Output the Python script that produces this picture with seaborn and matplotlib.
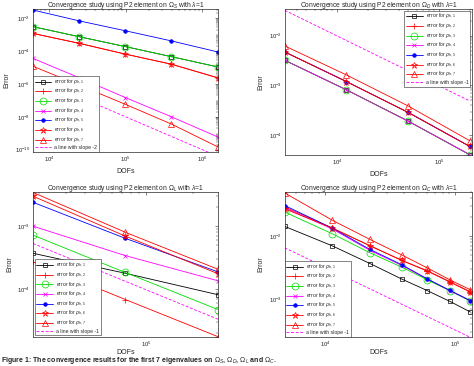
import numpy as np
import pandas as pd
import matplotlib
matplotlib.use("Agg")
import matplotlib.pyplot as plt
import seaborn as sns
from matplotlib.ticker import FixedLocator, LogFormatterSciNotation, NullFormatter

# ---------------- data ----------------
series_labels = [r"error for $\rho_{h,%d}$" % i for i in range(1, 8)]

# Omega_S (top-left)
dofs_S = [6.2e3, 2.48e4, 9.9e4, 3.96e5, 1.58e6]
err_S_1 = [3.1e-3, 7.6e-4, 1.9e-4, 4.6e-5, 1.1e-5]
err_S_2 = [1.2e-3, 3.0e-4, 6.6e-5, 1.6e-5, 2.4e-6]
err_S_3 = [3.1e-3, 7.6e-4, 1.9e-4, 4.6e-5, 1.1e-5]
err_S_4 = [3.6e-5, 2.4e-6, 1.5e-7, 1.0e-8, 6.0e-10]
err_S_5 = [3.2e-2, 7.0e-3, 1.75e-3, 4.2e-4, 9.0e-5]
err_S_6 = [1.2e-3, 3.0e-4, 6.6e-5, 1.6e-5, 2.4e-6]
err_S_7 = [1.2e-5, 8.5e-7, 5.8e-8, 3.6e-9, 1.5e-10]
slope_S_x = [6.2e3, 1.58e6]
slope_S_y = [2.6e-6, 4.0e-11]

# Omega_D (top-right)
dofs_D = [3.06e3, 1.23e4, 4.95e4, 2.0e5]
err_D_1 = [3.2e-3, 8.2e-4, 1.94e-4, 4.1e-5]
err_D_2 = [4.7e-3, 1.2e-3, 2.9e-4, 6.0e-5]
err_D_3 = [3.2e-3, 8.2e-4, 1.94e-4, 4.1e-5]
err_D_4 = [3.2e-3, 8.2e-4, 1.94e-4, 4.1e-5]
err_D_5 = [4.7e-3, 1.2e-3, 2.9e-4, 6.0e-5]
err_D_6 = [4.7e-3, 1.2e-3, 2.9e-4, 6.0e-5]
err_D_7 = [6.2e-3, 1.63e-3, 3.9e-4, 7.8e-5]
slope_D_x = [3.06e3, 2.0e5]
slope_D_y = [3.2e-2, 4.9e-4]

# Omega_L (bottom-left)
dofs_L = [1.83e4, 7.3e4, 2.93e5]
err_L_1 = [3.7e-4, 1.78e-4, 8.1e-5]
err_L_2 = [2.7e-4, 6.8e-5, 1.74e-5]
err_L_3 = [7.2e-4, 1.83e-4, 4.7e-5]
err_L_4 = [1.0e-3, 3.4e-4, 1.35e-4]
err_L_5 = [2.4e-3, 6.4e-4, 1.87e-4]
err_L_6 = [3.0e-3, 6.95e-4, 1.75e-4]
err_L_7 = [3.44e-3, 8.0e-4, 2.06e-4]
slope_L_x = [1.83e4, 2.93e5]
slope_L_y = [5.3e-4, 3.3e-5]

# Omega_C (bottom-right)
dofs_C = [4.9e3, 1.13e4, 2.21e4, 3.87e4, 6.1e4, 9.1e4, 1.3e5]
err_C_1 = [1.42e-2, 7.0e-3, 3.65e-3, 2.07e-3, 1.35e-3, 9.1e-4, 6.2e-4]
err_C_2 = [2.9e-2, 1.34e-2, 7.0e-3, 4.1e-3, 2.75e-3, 1.85e-3, 1.28e-3]
err_C_3 = [2.4e-2, 1.09e-2, 5.4e-3, 3.2e-3, 2.0e-3, 1.34e-3, 9.2e-4]
err_C_4 = [2.8e-2, 1.3e-2, 5.9e-3, 3.4e-3, 2.07e-3, 1.35e-3, 9.4e-4]
err_C_5 = [3.05e-2, 1.34e-2, 6.1e-3, 3.5e-3, 2.07e-3, 1.36e-3, 9.4e-4]
err_C_6 = [2.7e-2, 1.34e-2, 7.0e-3, 4.1e-3, 2.8e-3, 1.87e-3, 1.3e-3]
err_C_7 = [4.83e-2, 1.79e-2, 8.8e-3, 5.0e-3, 3.1e-3, 2.0e-3, 1.4e-3]
slope_C_x = [4.9e3, 1.3e5]
slope_C_y = [6.5e-3, 2.45e-4]

titles = [r"Convergence study using P2 element on $\Omega_S$ with $\lambda$=1",
          r"Convergence study using P2 element on $\Omega_D$ with $\lambda$=1",
          r"Convergence study using P2 element on $\Omega_L$ with $\lambda$=1",
          r"Convergence study using P2 element on $\Omega_C$ with $\lambda$=1"]
slope_labels = ["a line with slope -2", "a line with slope -1",
                "a line with slope -1", "a line with slope -1"]
caption = (r"Figure 1: The convergence results for the first 7 eigenvalues on "
           r"$\Omega_S$, $\Omega_D$, $\Omega_L$ and $\Omega_C$.")

# ---------------- style ----------------
sns.set_style("white")
plt.rcParams["font.family"] = ["Liberation Sans", "DejaVu Sans"]
plt.rcParams["mathtext.fontset"] = "custom"
plt.rcParams["mathtext.rm"] = "Liberation Sans"
plt.rcParams["mathtext.it"] = "Liberation Sans:italic"
plt.rcParams["mathtext.bf"] = "Liberation Sans:bold"
plt.rcParams["axes.edgecolor"] = "#262626"
plt.rcParams["axes.linewidth"] = 0.5

styles = [
    dict(color="#000000", marker="s", markersize=3.2, mfc="none"),
    dict(color="#ff0000", marker="+", markersize=4.0, mfc="none"),
    dict(color="#00dd00", marker="o", markersize=5.0, mfc="none"),
    dict(color="#ff00ff", marker="x", markersize=3.2, mfc="none"),
    dict(color="#0000ff", marker="o", markersize=2.6, mfc="#0000ff"),
    dict(color="#ff0000", marker="*", markersize=5.0, mfc="none"),
    dict(color="#ff0000", marker="^", markersize=4.8, mfc="none"),
]

W, H = 474, 366
fig = plt.figure(figsize=(W / 100, H / 100), dpi=100)

def rect(l, r, t, b):
    return [l / W, 1 - b / H, (r - l) / W, (b - t) / H]

panels = [
    dict(rect=rect(33, 218, 9, 152), dofs=dofs_S,
         errs=[err_S_1, err_S_2, err_S_3, err_S_4, err_S_5, err_S_6, err_S_7],
         sx=slope_S_x, sy=slope_S_y, xlim=(6.2e3, 1.6e6), ylim=(7.2e-11, 3.7e-2),
         xt=[1e4, 1e5, 1e6], yt=[1e-10, 1e-8, 1e-6, 1e-4, 1e-2], loc="lower left",
         pad=0.0, lp=3),
    dict(rect=rect(284.7, 472, 9, 155), dofs=dofs_D,
         errs=[err_D_1, err_D_2, err_D_3, err_D_4, err_D_5, err_D_6, err_D_7],
         sx=slope_D_x, sy=slope_D_y, xlim=(3.06e3, 2.1e5), ylim=(4.05e-5, 3.4e-2),
         xt=[1e4, 1e5], yt=[1e-4, 1e-3, 1e-2], loc="upper right", pad=0.3, lp=3),
    dict(rect=rect(33, 218, 192, 337), dofs=dofs_L,
         errs=[err_L_1, err_L_2, err_L_3, err_L_4, err_L_5, err_L_6, err_L_7],
         sx=slope_L_x, sy=slope_L_y, xlim=(1.83e4, 2.93e5), ylim=(1.72e-5, 3.5e-3),
         xt=[1e5], yt=[1e-4, 1e-3], loc="lower left", pad=0.3, lp=0.3),
    dict(rect=rect(284.7, 472, 192, 337), dofs=dofs_C,
         errs=[err_C_1, err_C_2, err_C_3, err_C_4, err_C_5, err_C_6, err_C_7],
         sx=slope_C_x, sy=slope_C_y, xlim=(4.9e3, 1.34e5), ylim=(2.48e-4, 5.0e-2),
         xt=[1e4, 1e5], yt=[1e-3, 1e-2], loc="lower left", pad=0.0, lp=0.3),
]

for k, p in enumerate(panels):
    ax = fig.add_axes(p["rect"])
    ax.set_xscale("log")
    ax.set_yscale("log")
    for i, (e, st) in enumerate(zip(p["errs"], styles)):
        df = pd.DataFrame({"DOFs": p["dofs"], "Error": e})
        sns.lineplot(data=df, x="DOFs", y="Error", ax=ax, color=st["color"],
                     marker=st["marker"], markersize=st["markersize"],
                     markerfacecolor=st["mfc"], markeredgecolor=st["color"],
                     markeredgewidth=0.5, linewidth=0.6, label=series_labels[i],
                     estimator=None, sort=False)
    dfs = pd.DataFrame({"DOFs": p["sx"], "Error": p["sy"]})
    sns.lineplot(data=dfs, x="DOFs", y="Error", ax=ax, color="#ff00ff",
                 linestyle=(0, (3.5, 2.0)), linewidth=0.6, label=slope_labels[k],
                 estimator=None, sort=False)
    ax.set_xlim(*p["xlim"])
    ax.set_ylim(*p["ylim"])
    ax.xaxis.set_major_locator(FixedLocator(p["xt"]))
    ax.yaxis.set_major_locator(FixedLocator(p["yt"]))
    ax.xaxis.set_major_formatter(LogFormatterSciNotation())
    ax.yaxis.set_major_formatter(LogFormatterSciNotation())
    ax.xaxis.set_minor_formatter(NullFormatter())
    ax.yaxis.set_minor_formatter(NullFormatter())
    ax.tick_params(which="both", direction="in", top=True, right=True,
                   labelsize=4.2, colors="#262626", pad=2)
    ax.tick_params(which="major", length=2.2, width=0.4)
    ax.tick_params(which="minor", length=1.2, width=0.3)
    ax.set_title(titles[k], fontsize=4.8, pad=1.5)
    ax.set_xlabel("DOFs", fontsize=5.0, labelpad=p["lp"])
    ax.set_ylabel("Error", fontsize=5.0, labelpad=3)
    leg = ax.legend(loc=p["loc"], fontsize=3.7, frameon=True, fancybox=False,
                    borderaxespad=p["pad"], handlelength=3.2, labelspacing=0.1,
                    borderpad=0.35, handletextpad=0.6)
    leg.get_frame().set_edgecolor("#262626")
    leg.get_frame().set_linewidth(0.4)
    leg.get_frame().set_facecolor("white")
    leg.get_frame().set_alpha(1.0)

fig.text(0.002, 0.0, caption, fontsize=5.0, fontweight="bold",
         ha="left", va="bottom")

fig.savefig("out.png", dpi=100, facecolor="white")
